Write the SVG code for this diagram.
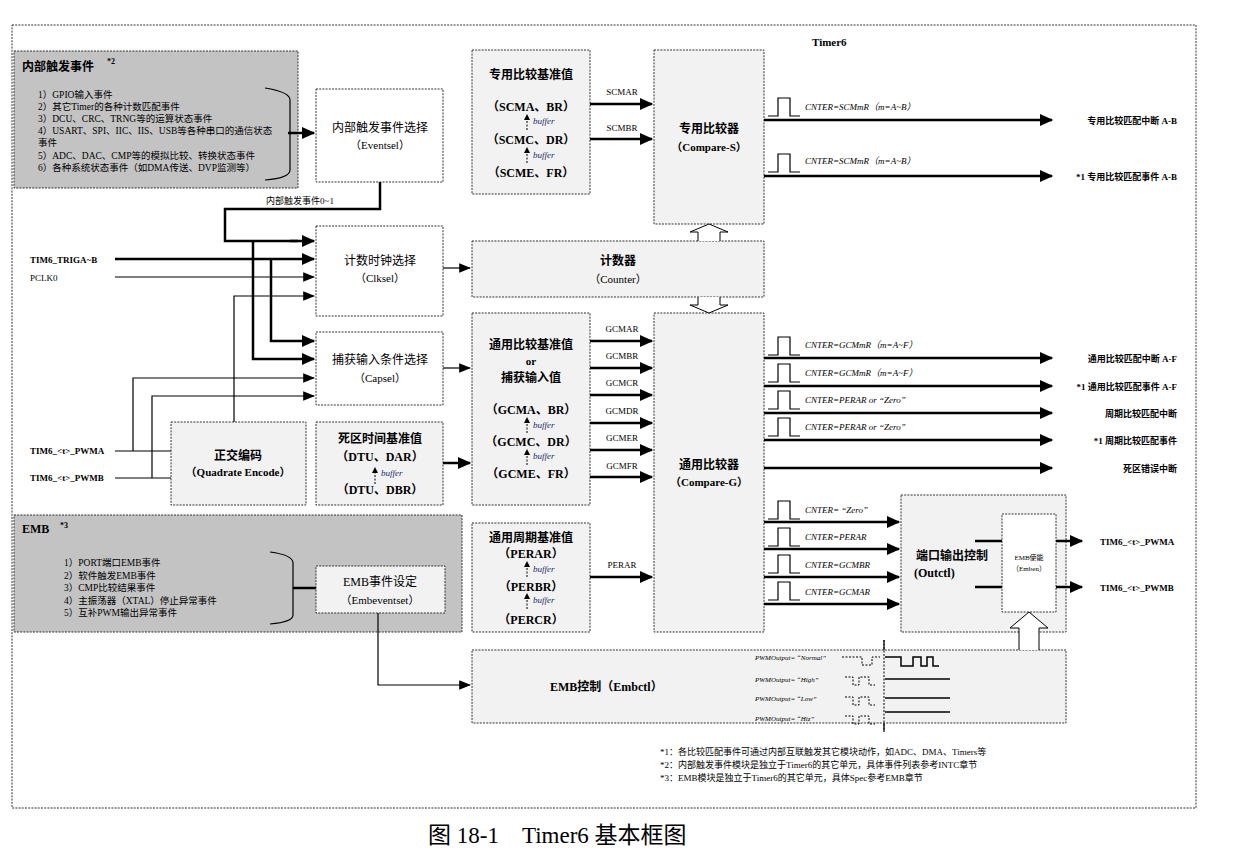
<svg xmlns="http://www.w3.org/2000/svg" width="1258" height="853" viewBox="0 0 1258 853">
<style>
text{font-family:"Liberation Serif","Noto Sans CJK SC",serif;fill:#000}
.b{font-weight:bold}
.box{fill:#f2f2f2;stroke:#333;stroke-width:1;stroke-dasharray:2,1.2}
.wbox{fill:#fff;stroke:#333;stroke-width:1;stroke-dasharray:2,1.2}
.gbox{fill:#c3c3c3;stroke:#333;stroke-width:1;stroke-dasharray:2,1.2}
.t{stroke:#000;stroke-width:2.5;fill:none}
.n{stroke:#000;stroke-width:1.2;fill:none}
.ta{stroke:#000;stroke-width:2.5;fill:none;marker-end:url(#ah)}
.na{stroke:#000;stroke-width:1.2;fill:none;marker-end:url(#ah2)}
.it{font-style:italic;font-size:9px;fill:#1a2a6a}
.sm{font-size:9.5px}
.c{text-anchor:middle}
.r{text-anchor:end}
.dot{stroke:#000;stroke-width:1;stroke-dasharray:2,1.5;fill:none}
.hol{fill:#fff;stroke:#000;stroke-width:1}
</style>
<defs>
<marker id="ah" markerWidth="6" markerHeight="6" refX="5" refY="3" orient="auto" markerUnits="strokeWidth"><path d="M0,0.5 L5.5,3 L0,5.5 Z" fill="#000"/></marker>
<marker id="ah2" markerWidth="10" markerHeight="10" refX="9" refY="5" orient="auto" markerUnits="strokeWidth"><path d="M0,1 L10,5 L0,9 Z" fill="#000"/></marker>
<marker id="sa" markerWidth="6" markerHeight="6" refX="3" refY="3" orient="auto"><path d="M0,0 L6,3 L0,6 Z" fill="#000"/></marker>
<path id="pulse" d="M0,0 h10 v-18 h12 v18 h10" fill="none" stroke="#000" stroke-width="1.2"/>
</defs>

<rect x="12" y="25" width="1184" height="783" fill="none" stroke="#333" stroke-dasharray="2,1.2"/>
<text x="812" y="46" class="b" font-size="11">Timer6</text>

<g id="inner-events">
<rect class="gbox" x="14" y="51" width="284" height="137"/>
<text x="22" y="71" class="b" font-size="12">内部触发事件</text><text x="107" y="64" class="b" font-size="8">*2</text>
<text x="38" y="98" class="sm">1）GPIO输入事件</text>
<text x="38" y="110" class="sm">2）其它Timer的各种计数匹配事件</text>
<text x="38" y="122" class="sm">3）DCU、CRC、TRNG等的运算状态事件</text>
<text x="38" y="134" class="sm">4）USART、SPI、IIC、IIS、USB等各种串口的通信状态</text>
<text x="38" y="146" class="sm">事件</text>
<text x="38" y="159" class="sm">5）ADC、DAC、CMP等的模拟比较、转换状态事件</text>
<text x="38" y="171" class="sm">6）各种系统状态事件（如DMA传送、DVP监测等）</text>
<path class="n" d="M265,88 Q290,92 290,100 L290,170 Q290,178 265,180"/>
</g>
<g id="eventsel"><rect class="wbox" x="316" y="89" width="127" height="93"/>
<text x="380" y="132" class="c" font-size="12">内部触发事件选择</text><text x="380" y="149" class="c" font-size="11">（Eventsel）</text></g>
<g id="clksel"><rect class="wbox" x="316" y="226" width="127" height="90"/>
<text x="380" y="265" class="c" font-size="12">计数时钟选择</text><text x="380" y="282" class="c" font-size="11">（Clksel）</text></g>
<g id="capsel"><rect class="wbox" x="316" y="332" width="127" height="73"/>
<text x="380" y="364" class="c" font-size="12">捕获输入条件选择</text><text x="380" y="382" class="c" font-size="11">（Capsel）</text></g>
<g id="quad"><rect class="box" x="171" y="422" width="135" height="83"/>
<text x="238" y="460" class="c b" font-size="12">正交编码</text><text x="238" y="476" class="c b" font-size="11">（Quadrate Encode）</text></g>
<g id="deadtime"><rect class="box" x="316" y="422" width="127" height="83"/>
<text x="380" y="443" class="c b" font-size="12">死区时间基准值</text>
<text x="380" y="461" class="c b" font-size="12">（DTU、DAR）</text>
<line class="dot" x1="375" y1="484" x2="375" y2="470" marker-end="url(#sa)"/><text x="381" y="476" class="it">buffer</text>
<text x="380" y="494" class="c b" font-size="12">（DTU、DBR）</text></g>

<g id="emb">
<rect class="gbox" x="14" y="515" width="448" height="117"/>
<text x="22" y="533" class="b" font-size="12">EMB</text><text x="60" y="528" class="b" font-size="8">*3</text>
<text x="64" y="566" class="sm">1）PORT端口EMB事件</text>
<text x="64" y="579" class="sm">2）软件触发EMB事件</text>
<text x="64" y="591" class="sm">3）CMP比较结果事件</text>
<text x="64" y="604" class="sm">4）主振荡器（XTAL）停止异常事件</text>
<text x="64" y="616" class="sm">5）互补PWM输出异常事件</text>
<path class="n" d="M270,552 Q293,555 293,563 L293,615 Q293,622 270,624"/>
</g>
<g id="embeventset"><rect class="box" x="316" y="566" width="129" height="47"/>
<text x="380" y="586" class="c" font-size="12">EMB事件设定</text><text x="380" y="604" class="c" font-size="11">（Embeventset）</text></g>

<g id="scm"><rect class="box" x="472" y="50" width="118" height="144"/>
<text x="531" y="79" class="c b" font-size="12">专用比较基准值</text>
<text x="531" y="111" class="c b" font-size="12">（SCMA、BR）</text>
<line class="dot" x1="527" y1="130" x2="527" y2="117" marker-end="url(#sa)"/><text x="533" y="124" class="it">buffer</text>
<text x="531" y="144" class="c b" font-size="12">（SCMC、DR）</text>
<line class="dot" x1="527" y1="163" x2="527" y2="150" marker-end="url(#sa)"/><text x="533" y="158" class="it">buffer</text>
<text x="531" y="177" class="c b" font-size="12">（SCME、FR）</text></g>
<g id="counter"><rect class="box" x="472" y="241" width="292" height="56"/>
<text x="618" y="265" class="c b" font-size="12">计数器</text><text x="618" y="283" class="c" font-size="11">（Counter）</text></g>
<g id="gcm"><rect class="box" x="472" y="313" width="118" height="192"/>
<text x="531" y="349" class="c b" font-size="12">通用比较基准值</text>
<text x="531" y="365" class="c b" font-size="11">or</text>
<text x="531" y="382" class="c b" font-size="12">捕获输入值</text>
<text x="531" y="414" class="c b" font-size="12">（GCMA、BR）</text>
<line class="dot" x1="527" y1="433" x2="527" y2="420" marker-end="url(#sa)"/><text x="533" y="428" class="it">buffer</text>
<text x="531" y="446" class="c b" font-size="12">（GCMC、DR）</text>
<line class="dot" x1="527" y1="465" x2="527" y2="452" marker-end="url(#sa)"/><text x="533" y="459" class="it">buffer</text>
<text x="531" y="478" class="c b" font-size="12">（GCME、FR）</text></g>
<g id="per"><rect class="box" x="472" y="523" width="118" height="109"/>
<text x="531" y="542" class="c b" font-size="12">通用周期基准值</text>
<text x="531" y="558" class="c b" font-size="12">（PERAR）</text>
<line class="dot" x1="527" y1="577" x2="527" y2="564" marker-end="url(#sa)"/><text x="533" y="572" class="it">buffer</text>
<text x="531" y="591" class="c b" font-size="12">（PERBR）</text>
<line class="dot" x1="527" y1="609" x2="527" y2="596" marker-end="url(#sa)"/><text x="533" y="603" class="it">buffer</text>
<text x="531" y="624" class="c b" font-size="12">（PERCR）</text></g>
<g id="compare-s"><rect class="box" x="654" y="50" width="110" height="174"/>
<text x="709" y="133" class="c b" font-size="12">专用比较器</text><text x="709" y="151" class="c b" font-size="11">（Compare-S）</text></g>
<g id="compare-g"><rect class="box" x="654" y="313" width="110" height="319"/>
<text x="709" y="469" class="c b" font-size="12">通用比较器</text><text x="709" y="486" class="c b" font-size="11">（Compare-G）</text></g>
<g id="outctl"><rect class="box" x="901" y="495" width="165" height="137"/>
<text x="916" y="560" class="b" font-size="12">端口输出控制</text><text x="914" y="577" class="b" font-size="12">(Outctl)</text>
<rect class="wbox" x="1002" y="514" width="54" height="98"/>
<text x="1029" y="560" class="c" font-size="7">EMB使能</text><text x="1029" y="571" class="c" font-size="7">（Emben）</text></g>
<g id="embctl"><rect class="box" x="472" y="650" width="594" height="73"/>
<text x="550" y="691" class="b" font-size="12">EMB控制（Embctl）</text>
<g font-size="7" font-style="italic"><text x="755" y="660">PWMOutput= “Normal”</text><text x="755" y="682">PWMOutput= “High”</text><text x="755" y="701">PWMOutput= “Low”</text><text x="755" y="721">PWMOutput= “Hiz”</text></g>
<path class="dot" d="M842,657 h20 v8 h10 v-8 h8"/>
<path class="dot" d="M845,677 h8 v8 h6 v-8 h10 v8 h6"/>
<path class="dot" d="M845,697 h8 v8 h6 v-8 h10 v8 h6"/>
<path class="dot" d="M845,716 h8 v8 h6 v-8 h10 v8 h6"/>
<line class="dot" x1="884" y1="640" x2="884" y2="730"/>
<line class="n" x1="884" y1="640" x2="884" y2="650"/>
<line class="n" x1="884" y1="723" x2="884" y2="732"/>
<path d="M885,657 h16 v9 h12 v-9 h8 v9 h6 v-9 h6 v9 h6" fill="none" stroke="#000" stroke-width="1.5"/>
<line x1="885" y1="679" x2="950" y2="679" stroke="#000" stroke-width="1.5"/>
<line x1="885" y1="712" x2="950" y2="712" stroke="#000" stroke-width="1.5"/>
<line x1="885" y1="698" x2="950" y2="698" stroke="#000" stroke-width="1.5"/>
</g>

<g id="connectors">
<line class="ta" x1="288" y1="133" x2="314" y2="133"/>
<path class="t" d="M380,182 V209 H225 V241 H298"/>
<line class="ta" x1="290" y1="241" x2="314" y2="241"/>
<text x="300" y="204" class="c" font-size="9">内部触发事件0~1</text>
<line class="ta" x1="115" y1="259" x2="314" y2="259"/>
<text x="30" y="263" class="b" font-size="9">TIM6_TRIGA~B</text>
<line class="na" x1="115" y1="277" x2="314" y2="277"/>
<text x="30" y="281" font-size="9">PCLK0</text>
<path class="na" d="M234,422 V296 H314"/>
<path class="ta" d="M271,259 V341 H314"/>
<path class="ta" d="M253,241 V359 H314"/>
<path class="na" d="M133,451 V378 H314"/>
<path class="na" d="M152,478 V396 H314"/>
<line class="n" x1="115" y1="451" x2="171" y2="451"/>
<line class="n" x1="115" y1="478" x2="171" y2="478"/>
<text x="30" y="454" class="b" font-size="9">TIM6_&lt;t&gt;_PWMA</text>
<text x="30" y="481" class="b" font-size="9">TIM6_&lt;t&gt;_PWMB</text>
<line class="na" x1="443" y1="268" x2="470" y2="268"/>
<line class="na" x1="443" y1="368" x2="470" y2="368"/>
<line class="ta" x1="443" y1="463" x2="470" y2="463"/>
<line class="t" x1="293" y1="588" x2="316" y2="588"/>
<path class="na" d="M378,613 V685 H470"/>
<line class="ta" x1="590" y1="104" x2="652" y2="104"/><text x="622" y="95" class="c" font-size="9">SCMAR</text>
<line class="ta" x1="590" y1="139" x2="652" y2="139"/><text x="622" y="131" class="c" font-size="9">SCMBR</text>
<g font-size="9" text-anchor="middle">
<line class="ta" x1="590" y1="341" x2="652" y2="341"/><text x="622" y="332">GCMAR</text>
<line class="ta" x1="590" y1="368" x2="652" y2="368"/><text x="622" y="359">GCMBR</text>
<line class="ta" x1="590" y1="395" x2="652" y2="395"/><text x="622" y="386">GCMCR</text>
<line class="ta" x1="590" y1="423" x2="652" y2="423"/><text x="622" y="414">GCMDR</text>
<line class="ta" x1="590" y1="450" x2="652" y2="450"/><text x="622" y="441">GCMER</text>
<line class="ta" x1="590" y1="477" x2="652" y2="477"/><text x="622" y="469">GCMFR</text>
<line class="ta" x1="590" y1="577" x2="652" y2="577"/><text x="622" y="568">PERAR</text>
</g>
<path class="hol" d="M698,241 V232 H690 L709,224 L728,232 H720 V241"/>
<path class="hol" d="M698,297 V305 H690 L709,313 L728,305 H720 V297"/>
<path class="hol" d="M1019,650 V628 H1010 L1029,612 L1048,628 H1039 V650"/>
<line class="t" x1="1002" y1="541" x2="975" y2="541"/>
<line class="t" x1="1002" y1="587" x2="975" y2="587"/>
<line class="ta" x1="1056" y1="541" x2="1082" y2="541"/>
<line class="ta" x1="1056" y1="587" x2="1082" y2="587"/>
<text x="1100" y="545" class="b" font-size="9">TIM6_&lt;t&gt;_PWMA</text>
<text x="1100" y="591" class="b" font-size="9">TIM6_&lt;t&gt;_PWMB</text>

<g class="it" font-size="9">
<line class="ta" x1="764" y1="120" x2="1052" y2="120"/><use href="#pulse" x="768" y="116"/><text x="805" y="110">CNTER=SCMmR（m=A~B）</text>
<line class="ta" x1="764" y1="176" x2="1052" y2="176"/><use href="#pulse" x="768" y="172"/><text x="805" y="164">CNTER=SCMmR（m=A~B）</text>
<line class="ta" x1="764" y1="358" x2="1052" y2="358"/><use href="#pulse" x="768" y="355"/><text x="805" y="348">CNTER=GCMmR（m=A~F）</text>
<line class="ta" x1="764" y1="386" x2="1052" y2="386"/><use href="#pulse" x="768" y="382"/><text x="805" y="376">CNTER=GCMmR（m=A~F）</text>
<line class="ta" x1="764" y1="413" x2="1052" y2="413"/><use href="#pulse" x="768" y="409"/><text x="805" y="403">CNTER=PERAR or “Zero”</text>
<line class="ta" x1="764" y1="440" x2="1052" y2="440"/><use href="#pulse" x="768" y="436"/><text x="805" y="430">CNTER=PERAR or “Zero”</text>
<line class="ta" x1="764" y1="468" x2="1052" y2="468"/>
<line class="ta" x1="764" y1="522" x2="899" y2="522"/><use href="#pulse" x="768" y="519"/><text x="805" y="513">CNTER= “Zero”</text>
<line class="ta" x1="764" y1="549" x2="899" y2="549"/><use href="#pulse" x="768" y="546"/><text x="805" y="540">CNTER=PERAR</text>
<line class="ta" x1="764" y1="577" x2="899" y2="577"/><use href="#pulse" x="768" y="573"/><text x="805" y="568">CNTER=GCMBR</text>
<line class="ta" x1="764" y1="604" x2="899" y2="604"/><use href="#pulse" x="768" y="600"/><text x="805" y="595">CNTER=GCMAR</text>
</g>
<g class="b r" font-size="9">
<text x="1177" y="124">专用比较匹配中断 A-B</text>
<text x="1177" y="180">*1 专用比较匹配事件 A-B</text>
<text x="1177" y="362">通用比较匹配中断 A-F</text>
<text x="1177" y="390">*1 通用比较匹配事件 A-F</text>
<text x="1177" y="417">周期比较匹配中断</text>
<text x="1177" y="444">*1 周期比较匹配事件</text>
<text x="1177" y="472">死区错误中断</text>
</g>
</g>
<g font-size="9">
<text x="660" y="755">*1：各比较匹配事件可通过内部互联触发其它模块动作，如ADC、DMA、Timers等</text>
<text x="660" y="768">*2：内部触发事件模块是独立于Timer6的其它单元，具体事件列表参考INTC章节</text>
<text x="660" y="781">*3：EMB模块是独立于Timer6的其它单元，具体Spec参考EMB章节</text>
</g>
<text x="428" y="843" font-size="23">图 18-1　Timer6 基本框图</text>
</svg>
